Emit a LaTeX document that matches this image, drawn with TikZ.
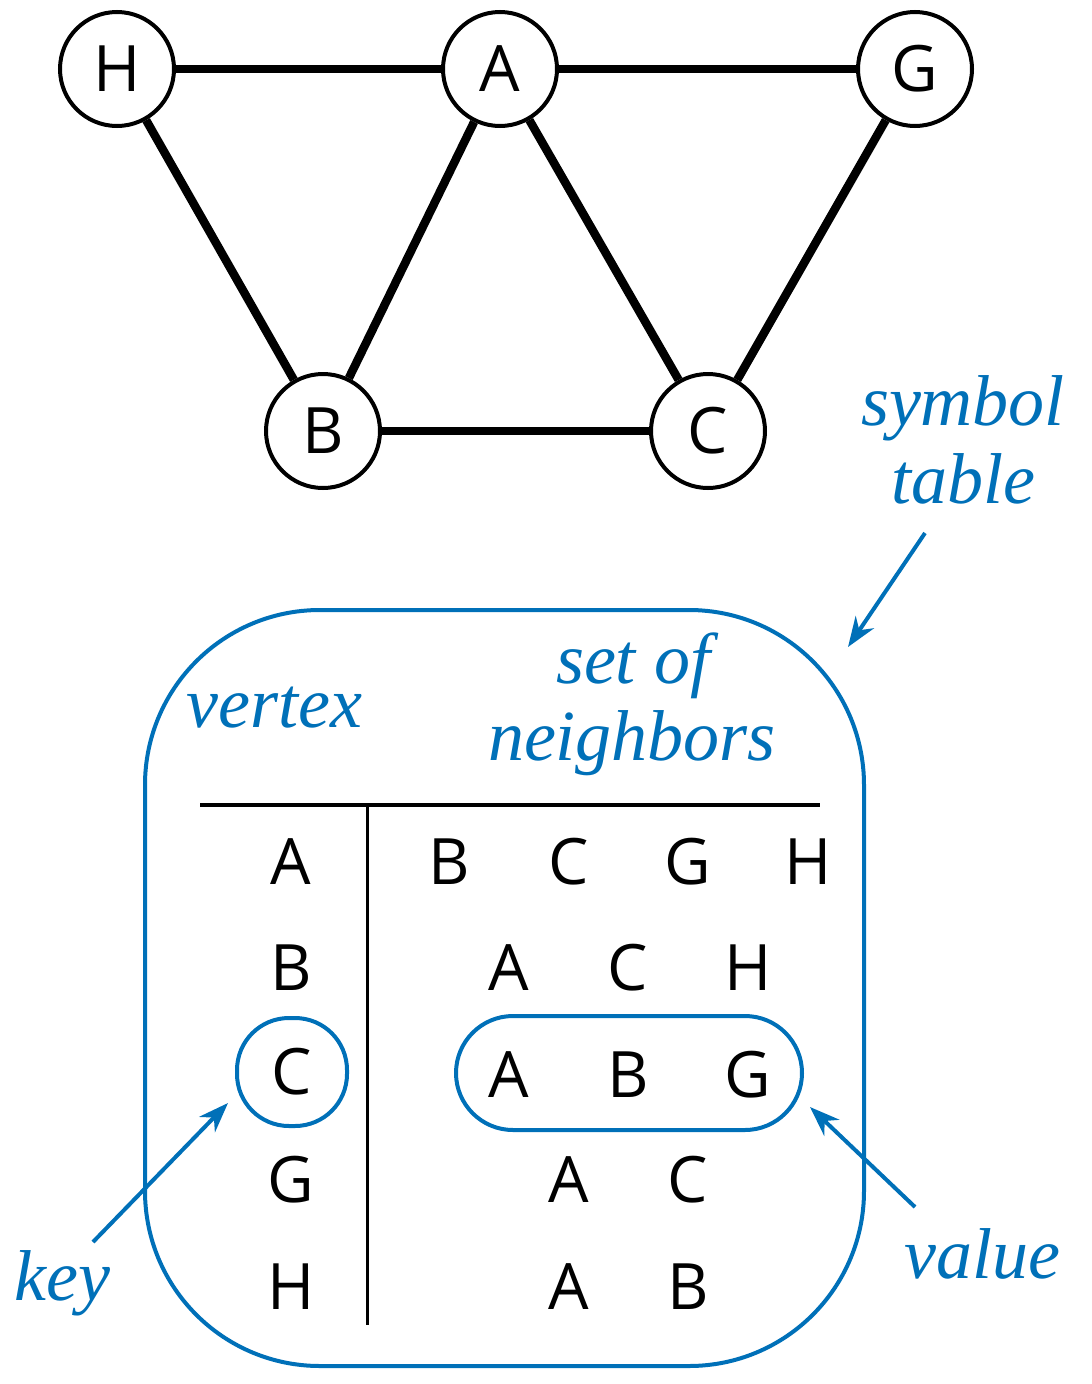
\documentclass[tikz,border=0pt]{standalone}
\usepackage{fontspec}
\setsansfont{Open Sans}
\newfontfamily\lblfont{Liberation Serif}
\usetikzlibrary{arrows.meta}
\definecolor{stblue}{RGB}{0,112,184}
\begin{document}
\begin{tikzpicture}[x=1pt,y=-1pt,
  vtx/.style={circle,draw=black,line width=4,fill=white,minimum size=114,inner sep=0,
     font=\sffamily\fontsize{64}{70}\selectfont},
  edge/.style={line width=8.5,black},
  letter/.style={inner sep=0,font=\sffamily\fontsize{64}{70}\selectfont},
  lbl/.style={inner sep=0,anchor=base,text=stblue,font=\lblfont\itshape\fontsize{72}{78}\selectfont},
  blueline/.style={draw=stblue,line width=4},
  ptr/.style={stblue,line width=4,-{Stealth[length=30,width=22]}}]
\useasboundingbox (0,0) rectangle (1092,1384);
% graph
\node[vtx] (H) at (117,69) {H};
\node[vtx] (A) at (500,69) {A};
\node[vtx] (G) at (915,69) {G};
\node[vtx] (B) at (323,431) {B};
\node[vtx] (C) at (708,431) {C};
\draw[edge] (H) -- (A);
\draw[edge] (A) -- (G);
\draw[edge] (H) -- (B);
\draw[edge] (A) -- (B);
\draw[edge] (A) -- (C);
\draw[edge] (G) -- (C);
\draw[edge] (B) -- (C);
% symbol table frame
\draw[blueline,rounded corners=175] (145,610) rectangle (864,1366);
% table rules
\coordinate (hl) at (200,805);
\coordinate (hr) at (820,805);
\coordinate (vt) at (367,805);
\coordinate (vb) at (367,1325);
\draw[black,line width=4] (hl) -- (hr);
\draw[black,line width=3] (vt) -- (vb);
% headings
\node[lbl] (vertex) at (274,727) {vertex};
\node[lbl] (setof) at (633,683) {set of};
\node[lbl] (neigh) at (632,760) {neighbors};
\node[lbl] (symbol) at (963,425) {symbol};
\node[lbl] (table) at (963,503) {table};
\node[lbl] (key) at (62,1300) {key};
\node[lbl] (value) at (982,1278) {value};
% keys
\node[letter] (kA) at (291,862) {A};
\node[letter] (kB) at (291,968) {B};
\node[letter,draw=stblue,line width=4,rounded corners=52,minimum width=110,minimum height=108] (kC) at (292,1072) {C};
\node[letter] (kG) at (291,1180) {G};
\node[letter] (kH) at (291,1287) {H};
% neighbors
\node[letter] (a1) at (449,862) {B};
\node[letter] (a2) at (569,862) {C};
\node[letter] (a3) at (688,862) {G};
\node[letter] (a4) at (808,862) {H};
\node[letter] (b1) at (509,968) {A};
\node[letter] (b2) at (628,968) {C};
\node[letter] (b3) at (748,968) {H};
\node[draw=stblue,line width=4,rounded corners=57,minimum width=346,minimum height=114,inner sep=0] (val) at (629,1073) {};
\node[letter] (c1) at (509,1075) {A};
\node[letter] (c2) at (628,1075) {B};
\node[letter] (c3) at (748,1075) {G};
\node[letter] (g1) at (569,1180) {A};
\node[letter] (g2) at (688,1180) {C};
\node[letter] (h1) at (569,1287) {A};
\node[letter] (h2) at (688,1287) {B};
% pointers
\coordinate (stS) at (925,533);
\coordinate (stE) at (848,647);
\coordinate (kS) at (93,1242);
\coordinate (kE) at (228,1103);
\coordinate (vS) at (915,1207);
\coordinate (vE) at (810,1107);
\draw[ptr] (stS) -- (stE);
\draw[ptr] (kS) -- (kE);
\draw[ptr] (vS) -- (vE);
\end{tikzpicture}
\end{document}
